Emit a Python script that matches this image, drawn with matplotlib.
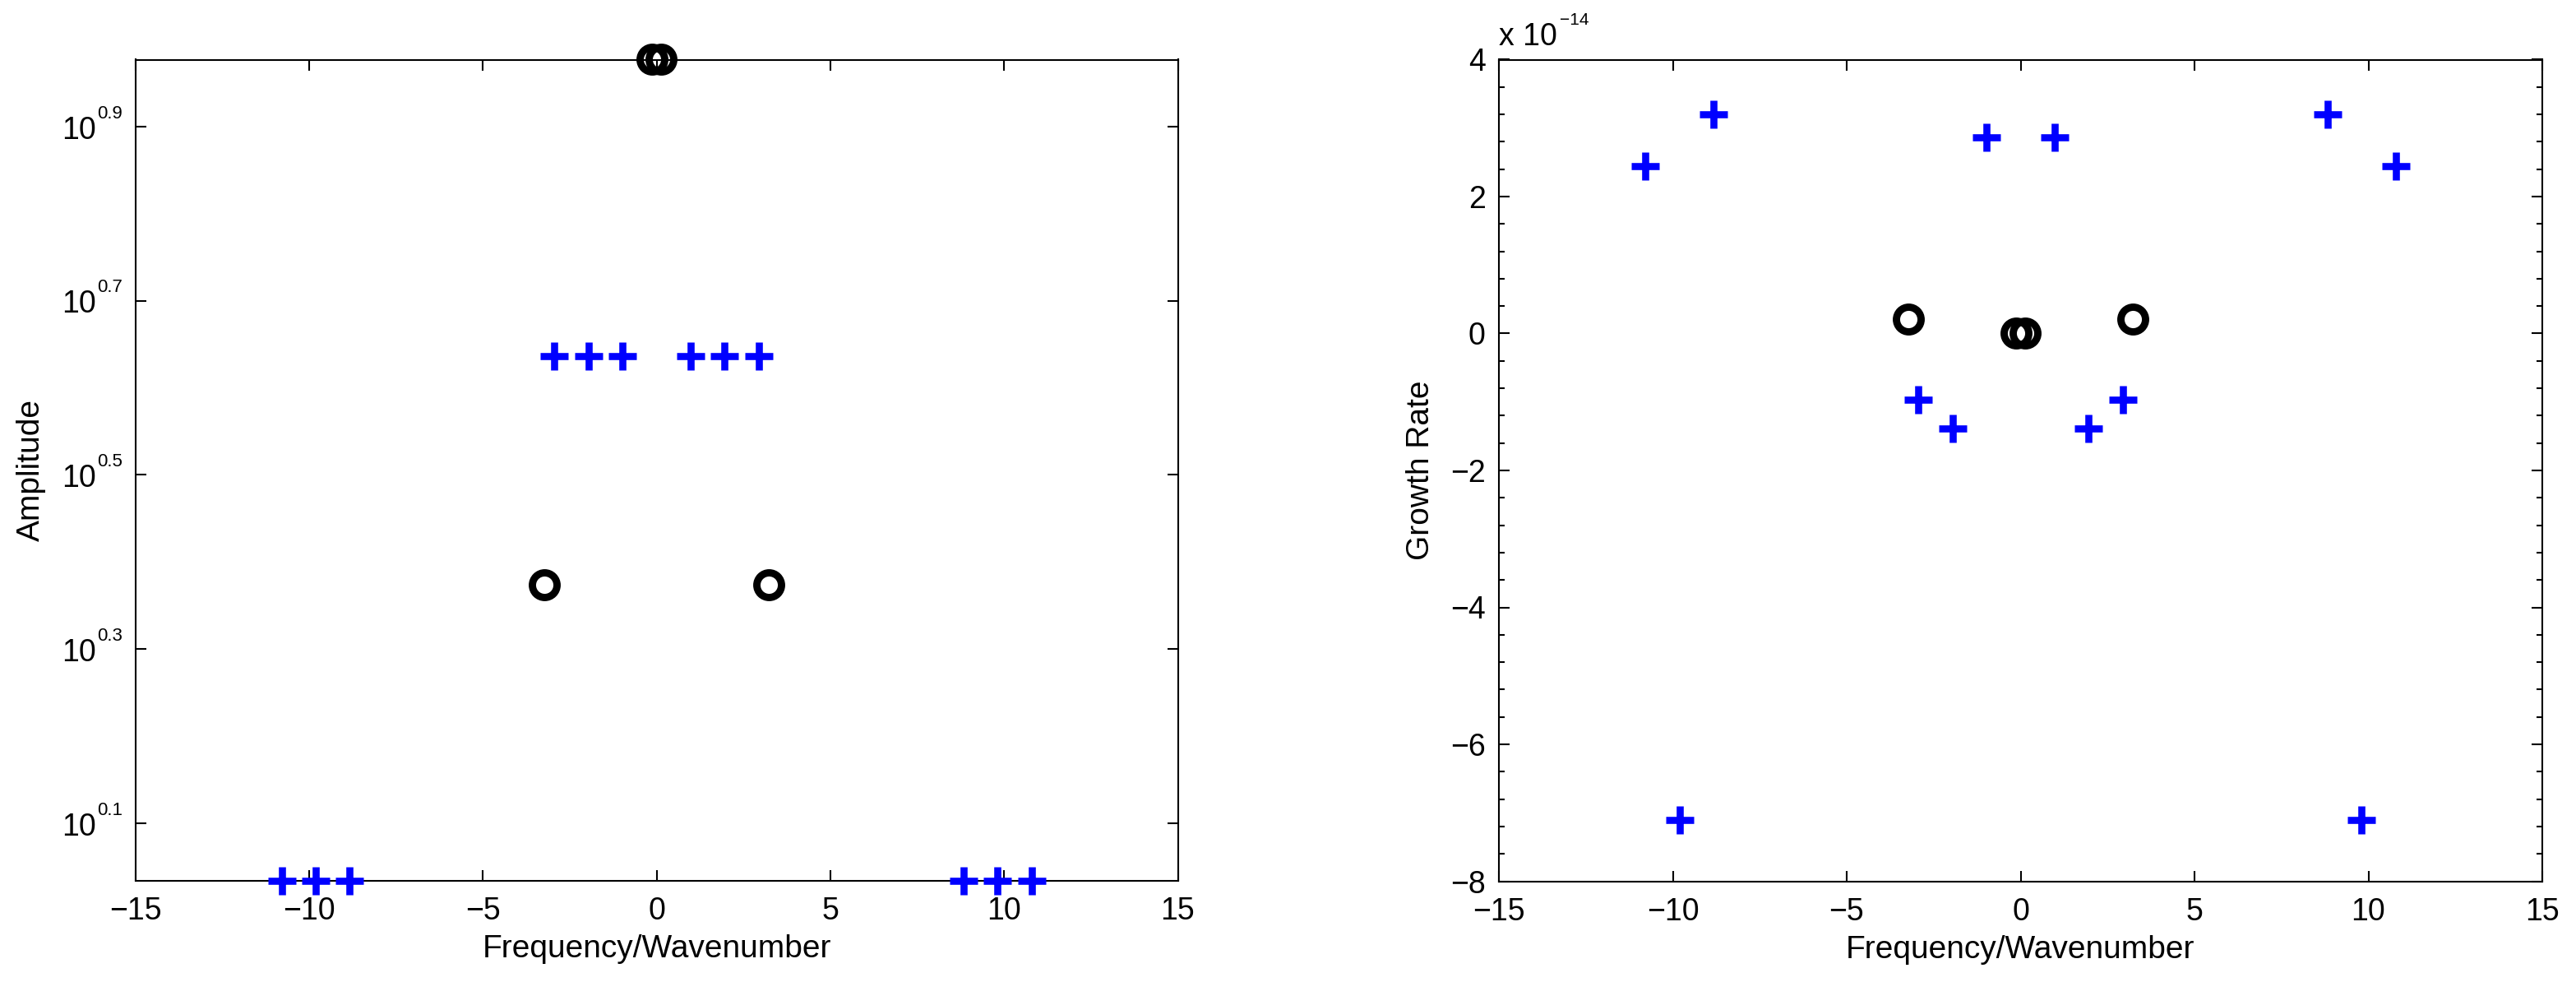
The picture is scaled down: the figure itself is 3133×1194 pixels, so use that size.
import numpy as np
import matplotlib
matplotlib.use("Agg")
import matplotlib.pyplot as plt
from matplotlib.ticker import FixedLocator, NullFormatter, NullLocator, FuncFormatter

plt.rcParams['font.family'] = ['Liberation Sans', 'DejaVu Sans']

# ---- data ----
freq_plus = [-10.79, -9.81, -8.83, -2.95, -1.96, -0.98, 0.98, 1.96, 2.95, 8.83, 9.81, 10.79]
amp_plus = [1.082, 1.082, 1.082, 4.33, 4.33, 4.33, 4.33, 4.33, 4.33, 1.082, 1.082, 1.082]
growth_plus = [2.45e-14, -7.11e-14, 3.20e-14, -0.965e-14, -1.39e-14, 2.87e-14,
               2.87e-14, -1.39e-14, -0.965e-14, 3.20e-14, -7.11e-14, 2.45e-14]

freq_circ = [-3.23, -0.135, 0.135, 3.23]
amp_circ = [2.366, 9.48, 9.48, 2.366]
growth_circ = [0.216e-14, 0.0, 0.0, 0.216e-14]

x_ticks = [-15, -10, -5, 0, 5, 10, 15]
amp_tick_exps = [0.1, 0.3, 0.5, 0.7, 0.9]
growth_ticks = [-8, -6, -4, -2, 0, 2, 4]
growth_scale = 1e-14

# ---- figure ----
W, H = 3133, 1194
fig = plt.figure(figsize=(W / 200, H / 200), dpi=200)

def ax_rect(l, r, t, b):
    return [l / W, 1 - b / H, (r - l) / W, (b - t) / H]

ax1 = fig.add_axes(ax_rect(164.6, 1432.5, 72.5, 1070.5))
ax2 = fig.add_axes(ax_rect(1823.0, 3092.0, 72.5, 1071.5))

plus_kw = dict(linestyle='none', marker='+', color=(0, 0, 1), markersize=11.9,
               markeredgewidth=3.1, clip_on=False, zorder=3)
circ_kw = dict(linestyle='none', marker='o', markerfacecolor='none',
               markeredgecolor='black', markersize=10.8, markeredgewidth=3.2,
               clip_on=False, zorder=3)

TICK_FS = 13.5
LABEL_FS = 14

for ax in (ax1, ax2):
    for s in ax.spines.values():
        s.set_linewidth(0.75)
    ax.set_xlim(-15, 15)
    ax.set_xticks(x_ticks)
    ax.tick_params(which='both', direction='in', top=True, right=True,
                   width=0.75, labelsize=TICK_FS, pad=7.0)
    ax.tick_params(which='major', length=4.6)
    ax.tick_params(which='minor', length=2.5)
    ax.set_xlabel('Frequency/Wavenumber', fontsize=LABEL_FS)
    ax.xaxis.set_label_coords(0.5, -0.066)
    ax.xaxis.label.set_verticalalignment('top')

# ---- left: amplitude (log) ----
ax1.plot(freq_plus, amp_plus, **plus_kw)
ax1.plot(freq_circ, amp_circ, **circ_kw)
ax1.set_yscale('log')
all_amp = amp_plus + amp_circ
ax1.set_ylim(min(all_amp), max(all_amp))
ax1.yaxis.set_major_locator(FixedLocator([10 ** e for e in amp_tick_exps]))
ax1.yaxis.set_major_formatter(NullFormatter())
ax1.yaxis.set_minor_locator(NullLocator())
ax1.yaxis.set_minor_formatter(NullFormatter())
for e in amp_tick_exps:
    ax1.annotate('10', xy=(0, 10 ** e), xycoords=('axes fraction', 'data'),
                 xytext=(-17.2, -5.3), textcoords='offset points',
                 ha='right', va='baseline', fontsize=TICK_FS)
    ax1.annotate('%g' % e, xy=(0, 10 ** e), xycoords=('axes fraction', 'data'),
                 xytext=(-16.9, 3.7), textcoords='offset points',
                 ha='left', va='baseline', fontsize=8.0)
ax1.set_ylabel('Amplitude', fontsize=LABEL_FS)
ax1.yaxis.set_label_coords(-0.100, 0.5)
ax1.yaxis.label.set_verticalalignment('center')

# ---- right: growth rate ----
ax2.plot(freq_plus, growth_plus, **plus_kw)
ax2.plot(freq_circ, growth_circ, **circ_kw)
ax2.set_ylim(growth_ticks[0] * growth_scale, growth_ticks[-1] * growth_scale)
ax2.yaxis.set_major_locator(FixedLocator([t * growth_scale for t in growth_ticks]))
ax2.yaxis.set_minor_locator(FixedLocator(
    [v * growth_scale for v in np.arange(growth_ticks[0], growth_ticks[-1] + 0.01, 0.4)]))
ax2.yaxis.set_major_formatter(FuncFormatter(
    lambda v, p: ('%g' % round(v / growth_scale, 6)).replace('-', '\u2212')))
ax2.tick_params(axis='y', pad=5.9)
ax1.tick_params(axis='y', pad=5.9)
ax2.annotate('x 10', xy=(0, 1), xycoords='axes fraction', xytext=(0, 6.3),
             textcoords='offset points', ha='left', va='baseline', fontsize=TICK_FS)
ax2.annotate('\u221214', xy=(0, 1), xycoords='axes fraction', xytext=(26.6, 15.3),
             textcoords='offset points', ha='left', va='baseline', fontsize=7.5)
ax2.set_ylabel('Growth Rate', fontsize=LABEL_FS)
ax2.yaxis.set_label_coords(-0.0749, 0.5)
ax2.yaxis.label.set_verticalalignment('center')

fig.savefig('out.png', dpi=200)
